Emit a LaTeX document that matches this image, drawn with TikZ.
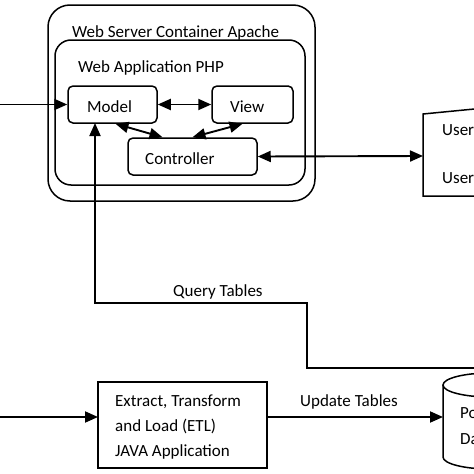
\documentclass[tikz,border=0pt]{standalone}
\usepackage{fontspec}
\setmainfont{Carlito}
\usetikzlibrary{arrows.meta}
\begin{document}
\begin{tikzpicture}[x=1pt,y=-1pt,
  box/.style={draw, line width=1.5pt, rounded corners=5pt, inner sep=0pt},
  bigbox/.style={draw, line width=1.5pt, inner sep=0pt},
  txt/.style={anchor=base west, inner sep=0pt, font=\fontsize{17}{24}\selectfont},
  arr/.style={line width=1.9pt, -{Triangle[length=13pt,width=11pt]}},
  darr/.style={line width=1.9pt, {Triangle[length=13pt,width=11pt]}-{Triangle[length=13pt,width=11pt]}}]
\useasboundingbox (0,0) rectangle (474,474);
\clip (0,0) rectangle (474,474);
% containers
\node[bigbox, rounded corners=22pt, minimum width=267pt, minimum height=196pt] (outer) at (181.5,103) {};
\node[bigbox, rounded corners=16pt, minimum width=250pt, minimum height=145pt] (inner) at (180,112.5) {};
\node[txt] (outert) at (72,37) {Web Server Container Apache};
\node[txt] (innert) at (78,72) {Web Application PHP};
% MVC
\node[box, minimum width=89pt, minimum height=37pt] (model) at (112.5,104.5) {};
\node[box, minimum width=81pt, minimum height=37pt] (view) at (252.5,104.5) {};
\node[box, minimum width=129pt, minimum height=37pt] (ctrl) at (192.5,156.5) {};
\node[txt] at (87,112) {Model};
\node[txt] at (230,112) {View};
\node[txt] at (145,164.5) {Controller};
% user box (clipped)
\coordinate (uleft) at (423,156);
\draw[line width=1.5pt] (500,106.5) -- (423,114) -- (423,196) -- (500,196);
\node[txt] (u1) at (442,135.5) {User};
\node[txt] (u2) at (442,183) {User};
% ETL
\node[bigbox, minimum width=169pt, minimum height=86pt] (etl) at (182.5,425) {};
\node[txt] at (115,406.5) {Extract, Transform};
\node[txt] at (115,431.5) {and Load (ETL)};
\node[txt] at (115,456) {JAVA Application};
% database (clipped)
\draw[line width=1.5pt] (490,385) ellipse [x radius=47, y radius=12];
\draw[line width=1.5pt] (443,385) -- (443,457) arc[start angle=180, end angle=0, x radius=47, y radius=12];
\coordinate (dbleft) at (443,417);
\node[txt] at (460,418) {Po};
\node[txt] at (460,444) {Da};
% connectors
\coordinate (in1) at (-2,104.5);
\coordinate (in2) at (-2,417);
\coordinate (etlin) at (98,417);
\coordinate (etlout) at (267,417);
\draw[arr] (in1) -- (model.west);
\draw[darr] (model.east) -- (view.west);
\draw[darr] ([xshift=3pt]model.south) -- ([xshift=-30pt]ctrl.north);
\draw[darr] ([xshift=-10pt]view.south) -- (ctrl.north);
\draw[darr] (ctrl.east) -- (uleft);
\coordinate (qend) at (480,368);
\draw[arr] (qend) -- (307,368) -- (307,303) -- (95,303) -- (95,123);
\node[txt] (qt) at (173,296) {Query Tables};
\draw[arr] (in2) -- (etlin);
\draw[arr] (etlout) -- (dbleft);
\node[txt] (ut) at (300,406.5) {Update Tables};
\end{tikzpicture}
\end{document}
